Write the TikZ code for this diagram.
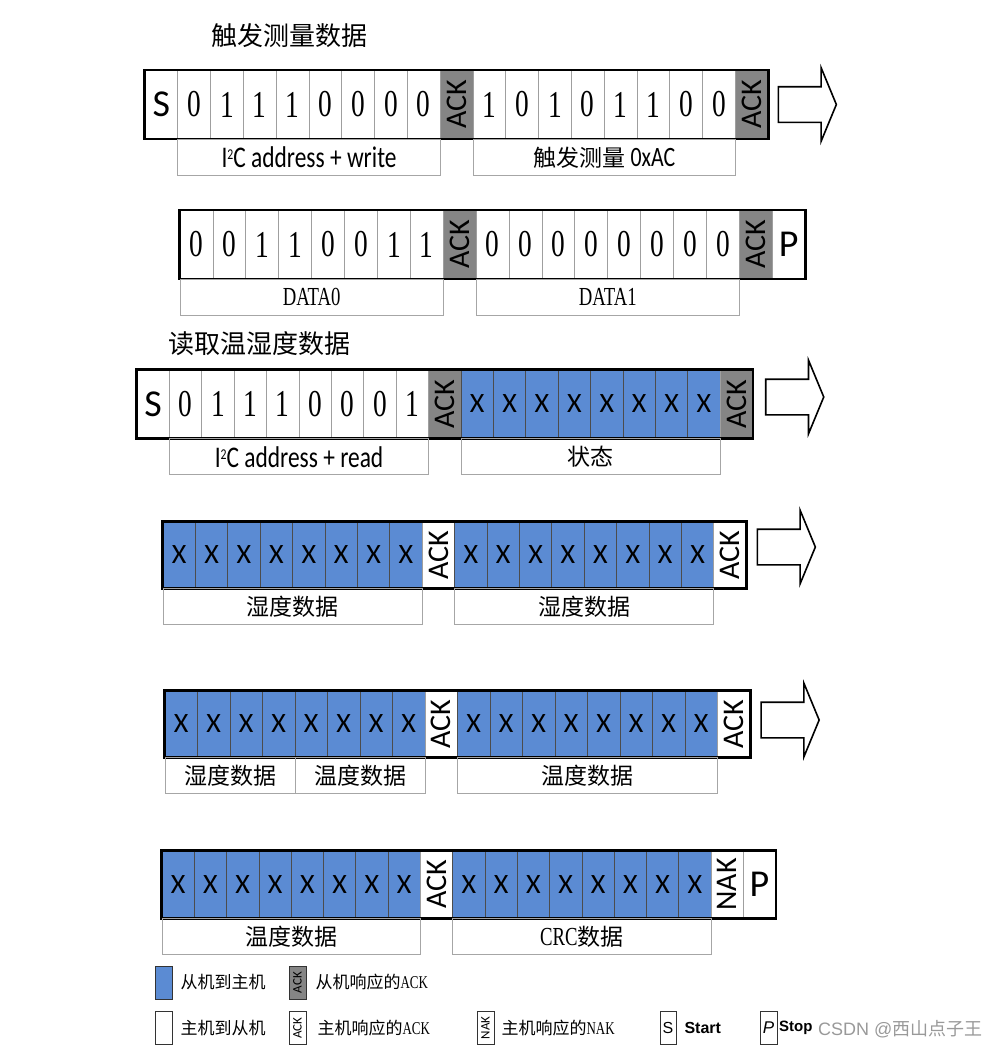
\documentclass[tikz,border=0pt]{standalone}
\usepackage{fontspec}
\setmainfont{Carlito}
\newfontfamily\cjk{Noto Sans CJK SC}
\newfontfamily\numfont[FakeStretch=0.72]{Liberation Serif}
\newfontfamily\condsans[FakeStretch=0.78]{Carlito}
\newfontfamily\arialfont{Liberation Sans}
\usetikzlibrary{positioning,shapes.arrows}
\definecolor{slaveblue}{RGB}{91,139,211}
\definecolor{ackgray}{RGB}{133,133,133}
\newcommand\ackv{\rotatebox{90}{ACK}}
\newcommand\nakv{\rotatebox{90}{NAK}}
\newcommand\twosup{\raisebox{8pt}{\fontsize{15}{15}\selectfont 2}}

\begin{document}
\begin{tikzpicture}[x=1pt, y=-1pt,
    cell/.style={draw=gray!75, line width=0.7pt, fill=white, inner sep=0pt, minimum height=68pt},
    num/.style={font=\numfont\fontsize{38}{40}\selectfont},
    ltr/.style={font=\fontsize{38}{40}\selectfont},
    xbit/.style={fill=slaveblue, draw=black!70, font=\fontsize{28}{30}\selectfont},
    gack/.style={fill=ackgray, font=\fontsize{30}{32}\selectfont},
    wack/.style={font=\fontsize{30}{32}\selectfont},
    frame/.style={draw=black, line width=2.6pt},
    lbl/.style={draw=gray!70, line width=0.8pt, inner sep=0pt, minimum height=36pt, anchor=north west},
    lblsans/.style={lbl, font=\condsans\fontsize{30}{32}\selectfont},
    lblcjk/.style={lbl, font=\cjk\fontsize{23}{25}\selectfont},
    lblnum/.style={lbl, font=\numfont\fontsize{26}{28}\selectfont},
    title/.style={font=\cjk\fontsize{26}{28}\selectfont, anchor=west},
    bigarrow/.style={single arrow, draw=black, line width=1.6pt, fill=white, inner xsep=0pt, inner ysep=17pt, minimum height=58pt, single arrow head extend=19pt, single arrow tip angle=135, anchor=tail},
    legbox/.style={draw=black!80, line width=0.9pt, inner sep=0pt, minimum width=17pt, minimum height=33pt},
    legtxt/.style={font=\cjk\fontsize{17}{19}\selectfont, anchor=west}
]
\useasboundingbox (0,0) rectangle (993,1050);

% trigger measurement
\node[title] (t1) at (208,36) {触发测量数据};
\foreach \t/\s [count=\i from 0] in {S/ltr, 0/num, 1/num, 1/num, 1/num, 0/num, 0/num, 0/num, 0/num, \ackv/gack, 1/num, 0/num, 1/num, 0/num, 1/num, 1/num, 0/num, 0/num, \ackv/gack}
  \node[cell, \s, minimum width=32.8pt] (a\i) at ({145+32.8*(\i+0.5)}, 104.5) {\t};
\draw[frame] (a0.north west) rectangle (a18.south east);
\node[lblsans, minimum width=262.4pt] (la1) at (a1.south west) {I\twosup C address + write};
\node[lblcjk, minimum width=262.4pt] (la2) at (a10.south west) {触发测量 {\fontsize{28}{30}\selectfont\condsans 0xAC}};
\node[bigarrow] (p1) at ([xshift=9pt]a18.east) {};

\foreach \t/\s [count=\i from 0] in {0/num, 0/num, 1/num, 1/num, 0/num, 0/num, 1/num, 1/num, \ackv/gack, 0/num, 0/num, 0/num, 0/num, 0/num, 0/num, 0/num, 0/num, \ackv/gack, P/ltr}
  \node[cell, \s, minimum width=32.9pt] (b\i) at ({180+32.9*(\i+0.5)}, 244.5) {\t};
\draw[frame] (b0.north west) rectangle (b18.south east);
\node[lblnum, minimum width=263.2pt] (lb1) at (b0.south west) {DATA0};
\node[lblnum, minimum width=263.2pt] (lb2) at (b9.south west) {DATA1};

% read temperature and humidity
\node[title] (t2) at (165,344) {读取温湿度数据};
\foreach \t/\s [count=\i from 0] in {S/ltr, 0/num, 1/num, 1/num, 1/num, 0/num, 0/num, 0/num, 1/num, \ackv/gack, X/xbit, X/xbit, X/xbit, X/xbit, X/xbit, X/xbit, X/xbit, X/xbit, \ackv/gack}
  \node[cell, \s, minimum width=32.4pt] (c\i) at ({137+32.4*(\i+0.5)}, 404) {\t};
\draw[frame] (c0.north west) rectangle (c18.south east);
\node[lblsans, minimum width=259.2pt] (lc1) at (c1.south west) {I\twosup C address + read};
\node[lblcjk, minimum width=259.2pt] (lc2) at (c10.south west) {状态};
\node[bigarrow] (p2) at ([xshift=12pt, yshift=7pt]c18.east) {};

\foreach \t/\s [count=\i from 0] in {X/xbit, X/xbit, X/xbit, X/xbit, X/xbit, X/xbit, X/xbit, X/xbit, \ackv/wack, X/xbit, X/xbit, X/xbit, X/xbit, X/xbit, X/xbit, X/xbit, X/xbit, \ackv/wack}
  \node[cell, \s, minimum width=32.4pt, minimum height=66pt] (d\i) at ({163+32.4*(\i+0.5)}, 555) {\t};
\draw[frame] (d0.north west) rectangle (d17.south east);
\node[lblcjk, minimum width=259.2pt] (ld1) at (d0.south west) {湿度数据};
\node[lblcjk, minimum width=259.2pt] (ld2) at (d9.south west) {湿度数据};
\node[bigarrow] (p3) at ([xshift=10pt, yshift=8pt]d17.east) {};

\foreach \t/\s [count=\i from 0] in {X/xbit, X/xbit, X/xbit, X/xbit, X/xbit, X/xbit, X/xbit, X/xbit, \ackv/wack, X/xbit, X/xbit, X/xbit, X/xbit, X/xbit, X/xbit, X/xbit, X/xbit, \ackv/wack}
  \node[cell, \s, minimum width=32.5pt, minimum height=66pt] (e\i) at ({165+32.5*(\i+0.5)}, 724) {\t};
\draw[frame] (e0.north west) rectangle (e17.south east);
\node[lblcjk, minimum width=130pt] (le1) at (e0.south west) {湿度数据};
\node[lblcjk, minimum width=130pt] (le2) at (e4.south west) {温度数据};
\node[lblcjk, minimum width=260pt] (le3) at (e9.south west) {温度数据};
\node[bigarrow] (p4) at ([xshift=10pt, yshift=4pt]e17.east) {};

\foreach \t/\s [count=\i from 0] in {X/xbit, X/xbit, X/xbit, X/xbit, X/xbit, X/xbit, X/xbit, X/xbit, \ackv/wack, X/xbit, X/xbit, X/xbit, X/xbit, X/xbit, X/xbit, X/xbit, X/xbit, \nakv/wack, P/ltr}
  \node[cell, \s, minimum width=32.3pt, minimum height=67pt] (f\i) at ({162+32.3*(\i+0.5)}, 884.5) {\t};
\draw[frame] (f0.north west) rectangle (f18.south east);
\node[lblcjk, minimum width=258.4pt] (lf1) at (f0.south west) {温度数据};
\node[lblcjk, minimum width=258.4pt] (lf2) at (f9.south west) {{\numfont\fontsize{26}{28}\selectfont CRC}数据};

% legend
\node[legbox, fill=slaveblue] (k1) at (163.5,982.5) {};
\node[legtxt] (kt1) at (177,982.5) {从机到主机};
\node[legbox, fill=ackgray, font=\fontsize{13}{14}\selectfont] (k2) at (297.5,982.5) {\ackv};
\node[legtxt] (kt2) at (312,982.5) {从机响应的{\numfont\fontsize{18}{20}\selectfont ACK}};
\node[legbox, fill=white] (k3) at (163.5,1028) {};
\node[legtxt] (kt3) at (177,1028) {主机到从机};
\node[legbox, fill=white, font=\fontsize{13}{14}\selectfont] (k4) at (297.5,1028) {\ackv};
\node[legtxt] (kt4) at (314,1028) {主机响应的{\numfont\fontsize{18}{20}\selectfont ACK}};
\node[legbox, fill=white, font=\fontsize{13}{14}\selectfont] (k5) at (485.5,1028) {\nakv};
\node[legtxt] (kt5) at (498,1028) {主机响应的{\numfont\fontsize{18}{20}\selectfont NAK}};
\node[legbox, fill=white, minimum width=16pt, font=\arialfont\fontsize{16}{18}\selectfont] (k6) at (668,1028) {S};
\node[legtxt, font=\arialfont\bfseries\fontsize{16}{18}\selectfont] (kt6) at (681,1028) {Start};
\node[legbox, fill=white, font=\arialfont\itshape\fontsize{17}{18}\selectfont] (k7) at (768.5,1028) {P};
\node[legtxt, font=\arialfont\bfseries\fontsize{15}{18}\selectfont, inner xsep=1pt] (kt7) at (778,1028) {Stop};
\node[legtxt, text=gray!80, font=\arialfont\fontsize{18}{20}\selectfont, inner sep=0pt] (wm) at (818,1029) {CSDN @{\cjk 西山点子王}};
\end{tikzpicture}
\end{document}
